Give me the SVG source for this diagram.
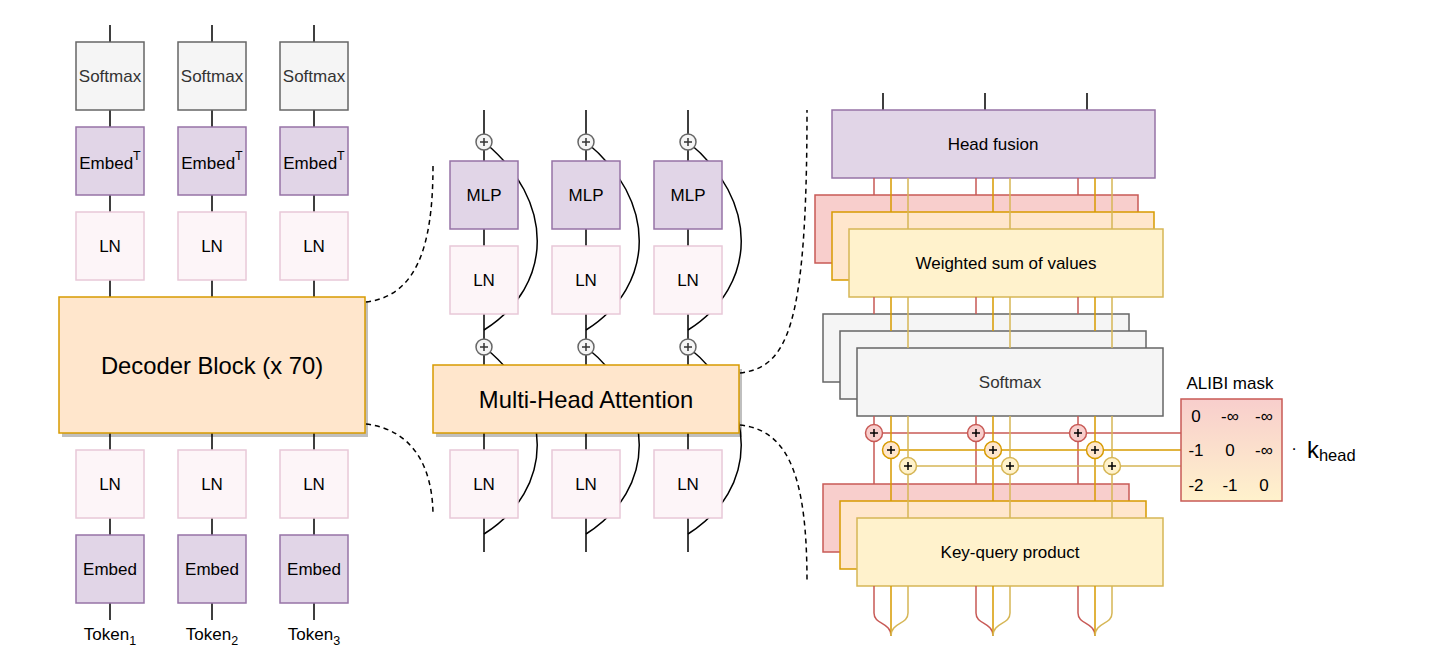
<svg xmlns="http://www.w3.org/2000/svg" width="1440" height="665" viewBox="0 0 1440 665">
<defs>
<style>
text { font-family: "Liberation Sans", Arial, sans-serif; font-size: 17px; fill: #000; }
.c { text-anchor: middle; dominant-baseline: central; }
.big { font-size: 23.8px; }
.sub { font-size: 12.5px; }
.gt { fill: #333; }
.gray { fill: #f5f5f5; stroke: #666; stroke-width: 1.5; }
.purple { fill: #e1d5e7; stroke: #9673a6; stroke-width: 1.5; }
.ln { fill: #fdf5f8; stroke: #e8c8d8; stroke-width: 1.5; }
.orange { fill: #ffe6cc; stroke: #d79b00; stroke-width: 1.5; }
.red { fill: #f8cecc; stroke: #c85a56; stroke-width: 1.5; }
.yellow { fill: #fff2cc; stroke: #d6b656; stroke-width: 1.5; }
.shadow { fill: #000; opacity: 0.25; }
.wire { stroke: #000; stroke-width: 1.5; fill: none; }
.dash { stroke: #000; stroke-width: 1.5; fill: none; stroke-dasharray: 5 4; }
.rw { stroke: #c85a56; stroke-width: 1.5; fill: none; }
.ow { stroke: #d79b00; stroke-width: 1.5; fill: none; }
.yw { stroke: #d6b656; stroke-width: 1.5; fill: none; }
.sum { fill: #f5f5f5; stroke: #666; stroke-width: 1.5; }
.plus { stroke: #333; stroke-width: 1.5; }
.plusk { stroke: #000; stroke-width: 1.5; }
</style>
<linearGradient id="alibiGrad" x1="0" y1="0" x2="0" y2="1">
<stop offset="0" stop-color="#f8cecc"/>
<stop offset="1" stop-color="#fff2cc"/>
</linearGradient>
</defs>
<rect width="1440" height="665" fill="#fff"/>

<g id="connectors">
<path class="wire" d="M110 25 V620 M212 25 V620 M314 25 V620"/>
<path class="wire" d="M484 110 V552 M586 110 V552 M688 110 V552"/>
<path class="wire" d="M484 330 C555 285 555 200 484 142"/>
<path class="wire" d="M586 330 C657 285 657 200 586 142"/>
<path class="wire" d="M688 330 C759 285 759 200 688 142"/>
<path class="wire" d="M484 534 C555 489 555 404 484 347"/>
<path class="wire" d="M586 534 C657 489 657 404 586 347"/>
<path class="wire" d="M688 534 C759 489 759 404 688 347"/>
<path class="wire" d="M883 93 V110 M985 93 V110 M1087 93 V110"/>
<path class="dash" d="M366 302 C415 296 433 250 433 166"/>
<path class="dash" d="M366 424 C415 430 433 470 433 516"/>
<path class="dash" d="M740 373 C787 367 807 330 807 110"/>
<path class="dash" d="M740 425 C790 430 807 480 807 582"/>
</g>

<g id="softmax1"><rect class="gray" x="76" y="42" width="68" height="68"/><text class="c gt" x="110" y="76">Softmax</text></g>
<g id="softmax2"><rect class="gray" x="178" y="42" width="68" height="68"/><text class="c gt" x="212" y="76">Softmax</text></g>
<g id="softmax3"><rect class="gray" x="280" y="42" width="68" height="68"/><text class="c gt" x="314" y="76">Softmax</text></g>

<g id="embedT1"><rect class="purple" x="76" y="127" width="68" height="68"/><text class="c" x="110" y="163">Embed<tspan class="sub" dy="-7">T</tspan></text></g>
<g id="embedT2"><rect class="purple" x="178" y="127" width="68" height="68"/><text class="c" x="212" y="163">Embed<tspan class="sub" dy="-7">T</tspan></text></g>
<g id="embedT3"><rect class="purple" x="280" y="127" width="68" height="68"/><text class="c" x="314" y="163">Embed<tspan class="sub" dy="-7">T</tspan></text></g>

<g id="lnTop1"><rect class="ln" x="76" y="212" width="68" height="68"/><text class="c" x="110" y="246">LN</text></g>
<g id="lnTop2"><rect class="ln" x="178" y="212" width="68" height="68"/><text class="c" x="212" y="246">LN</text></g>
<g id="lnTop3"><rect class="ln" x="280" y="212" width="68" height="68"/><text class="c" x="314" y="246">LN</text></g>

<g id="decoderBlock"><rect class="shadow" x="62" y="301" width="306" height="136"/><rect class="orange" x="59" y="297" width="306" height="136"/><text class="c big" x="212" y="365">Decoder Block (x 70)</text></g>

<g id="lnBot1"><rect class="ln" x="76" y="450" width="68" height="68"/><text class="c" x="110" y="484">LN</text></g>
<g id="lnBot2"><rect class="ln" x="178" y="450" width="68" height="68"/><text class="c" x="212" y="484">LN</text></g>
<g id="lnBot3"><rect class="ln" x="280" y="450" width="68" height="68"/><text class="c" x="314" y="484">LN</text></g>

<g id="embed1"><rect class="purple" x="76" y="535" width="68" height="68"/><text class="c" x="110" y="569">Embed</text></g>
<g id="embed2"><rect class="purple" x="178" y="535" width="68" height="68"/><text class="c" x="212" y="569">Embed</text></g>
<g id="embed3"><rect class="purple" x="280" y="535" width="68" height="68"/><text class="c" x="314" y="569">Embed</text></g>

<g id="token1"><text x="110" y="640" text-anchor="middle">Token<tspan class="sub" dy="5">1</tspan></text></g>
<g id="token2"><text x="212" y="640" text-anchor="middle">Token<tspan class="sub" dy="5">2</tspan></text></g>
<g id="token3"><text x="314" y="640" text-anchor="middle">Token<tspan class="sub" dy="5">3</tspan></text></g>

<g id="sumTop1"><circle class="sum" cx="484" cy="142" r="8"/><path class="plus" d="M480 142 H488 M484 138 V146"/></g>
<g id="sumTop2"><circle class="sum" cx="586" cy="142" r="8"/><path class="plus" d="M582 142 H590 M586 138 V146"/></g>
<g id="sumTop3"><circle class="sum" cx="688" cy="142" r="8"/><path class="plus" d="M684 142 H692 M688 138 V146"/></g>

<g id="mlp1"><rect class="purple" x="450" y="161" width="68" height="68"/><text class="c" x="484" y="195">MLP</text></g>
<g id="mlp2"><rect class="purple" x="552" y="161" width="68" height="68"/><text class="c" x="586" y="195">MLP</text></g>
<g id="mlp3"><rect class="purple" x="654" y="161" width="68" height="68"/><text class="c" x="688" y="195">MLP</text></g>

<g id="lnMid1"><rect class="ln" x="450" y="246" width="68" height="68"/><text class="c" x="484" y="280">LN</text></g>
<g id="lnMid2"><rect class="ln" x="552" y="246" width="68" height="68"/><text class="c" x="586" y="280">LN</text></g>
<g id="lnMid3"><rect class="ln" x="654" y="246" width="68" height="68"/><text class="c" x="688" y="280">LN</text></g>

<g id="sumMid1"><circle class="sum" cx="484" cy="347" r="8"/><path class="plus" d="M480 347 H488 M484 343 V351"/></g>
<g id="sumMid2"><circle class="sum" cx="586" cy="347" r="8"/><path class="plus" d="M582 347 H590 M586 343 V351"/></g>
<g id="sumMid3"><circle class="sum" cx="688" cy="347" r="8"/><path class="plus" d="M684 347 H692 M688 343 V351"/></g>

<g id="mha"><rect class="shadow" x="436" y="369" width="306" height="68"/><rect class="orange" x="433" y="365" width="306" height="68"/><text class="c big" x="586" y="399">Multi-Head Attention</text></g>

<g id="lnLow1"><rect class="ln" x="450" y="450" width="68" height="68"/><text class="c" x="484" y="484">LN</text></g>
<g id="lnLow2"><rect class="ln" x="552" y="450" width="68" height="68"/><text class="c" x="586" y="484">LN</text></g>
<g id="lnLow3"><rect class="ln" x="654" y="450" width="68" height="68"/><text class="c" x="688" y="484">LN</text></g>

<g id="headFusion"><rect class="purple" x="832" y="110" width="323" height="68"/><text class="c" x="993" y="144">Head fusion</text></g>

<g id="valuesStack">
<rect class="red" x="815" y="195" width="323" height="68"/>
<rect class="orange" x="832" y="212" width="322" height="68"/>
</g>
<g id="weightedSum"><rect class="yellow" x="849" y="229" width="314" height="68"/><text class="c" x="1006" y="263">Weighted sum of values</text></g>

<g id="softmaxStack">
<rect class="gray" x="823" y="314" width="306" height="68"/>
<rect class="gray" x="840" y="331" width="306" height="68"/>
</g>
<g id="softmaxHeads"><rect class="gray" x="857" y="348" width="306" height="68"/><text class="c gt" x="1010" y="382">Softmax</text></g>

<g id="kqStack">
<rect class="red" x="823" y="484" width="306" height="68"/>
<rect class="orange" x="840" y="501" width="306" height="68"/>
</g>
<g id="keyQuery"><rect class="yellow" x="857" y="518" width="306" height="68"/><text class="c" x="1010" y="552">Key-query product</text></g>

<g id="head-connectors">
<path class="rw" d="M874 178 V195 M874 297 V314 M874 416 V484 M874 586 V613 C874 625 891 622 891 636"/>
<path class="rw" d="M976 178 V195 M976 297 V314 M976 416 V484 M976 586 V613 C976 625 993 622 993 636"/>
<path class="rw" d="M1078 178 V195 M1078 297 V314 M1078 416 V484 M1078 586 V613 C1078 625 1095 622 1095 636"/>
<path class="rw" d="M874 433 H1181"/>
<path class="ow" d="M891 178 V212 M891 297 V331 M891 416 V501 M891 586 V636"/>
<path class="ow" d="M993 178 V212 M993 297 V331 M993 416 V501 M993 586 V636"/>
<path class="ow" d="M1095 178 V212 M1095 297 V331 M1095 416 V501 M1095 586 V636"/>
<path class="ow" d="M891 450 H1181"/>
<path class="yw" d="M908 178 V229 M908 297 V348 M908 416 V518 M908 586 V613 C908 625 891 622 891 636"/>
<path class="yw" d="M1010 178 V229 M1010 297 V348 M1010 416 V518 M1010 586 V613 C1010 625 993 622 993 636"/>
<path class="yw" d="M1112 178 V229 M1112 297 V348 M1112 416 V518 M1112 586 V613 C1112 625 1095 622 1095 636"/>
<path class="yw" d="M908 466 H1181"/>
</g>

<g id="addRed1"><circle class="red" cx="874" cy="433" r="8.5"/><path class="plusk" d="M870 433 H878 M874 429 V437"/></g>
<g id="addRed2"><circle class="red" cx="976" cy="433" r="8.5"/><path class="plusk" d="M972 433 H980 M976 429 V437"/></g>
<g id="addRed3"><circle class="red" cx="1078" cy="433" r="8.5"/><path class="plusk" d="M1074 433 H1082 M1078 429 V437"/></g>
<g id="addOrange1"><circle class="orange" cx="891" cy="450" r="8.5"/><path class="plusk" d="M887 450 H895 M891 446 V454"/></g>
<g id="addOrange2"><circle class="orange" cx="993" cy="450" r="8.5"/><path class="plusk" d="M989 450 H997 M993 446 V454"/></g>
<g id="addOrange3"><circle class="orange" cx="1095" cy="450" r="8.5"/><path class="plusk" d="M1091 450 H1099 M1095 446 V454"/></g>
<g id="addYellow1"><circle class="yellow" cx="908" cy="466" r="8.5"/><path class="plusk" d="M904 466 H912 M908 462 V470"/></g>
<g id="addYellow2"><circle class="yellow" cx="1010" cy="466" r="8.5"/><path class="plusk" d="M1006 466 H1014 M1010 462 V470"/></g>
<g id="addYellow3"><circle class="yellow" cx="1112" cy="466" r="8.5"/><path class="plusk" d="M1108 466 H1116 M1112 462 V470"/></g>

<g id="alibiMask">
<text class="c" x="1230" y="383">ALIBI mask</text>
<rect x="1181" y="399" width="101" height="102" fill="url(#alibiGrad)" stroke="#c85a56" stroke-width="1.5"/>
<text class="c" x="1196" y="416">0</text>
<text class="c" x="1230" y="416">-∞</text>
<text class="c" x="1264" y="416">-∞</text>
<text class="c" x="1196" y="450">-1</text>
<text class="c" x="1230" y="450">0</text>
<text class="c" x="1264" y="450">-∞</text>
<text class="c" x="1196" y="485">-2</text>
<text class="c" x="1230" y="485">-1</text>
<text class="c" x="1264" y="485">0</text>
</g>
<g id="kHead">
<text x="1294" y="454" text-anchor="middle">·</text>
<text class="big" x="1307" y="458">k<tspan style="font-size:16.5px" dy="3">head</tspan></text>
</g>
</svg>
